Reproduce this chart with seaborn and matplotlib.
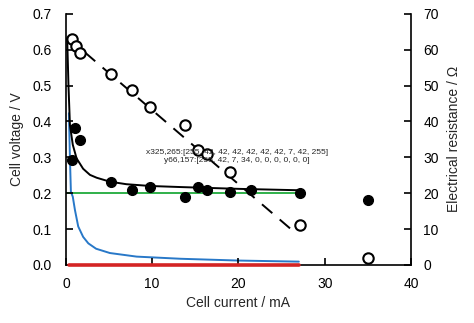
import matplotlib
matplotlib.use("Agg")
import matplotlib.pyplot as plt
import seaborn as sns
import pandas as pd
import numpy as np

sns.set_style("ticks")
plt.rcParams['font.family'] = ['Liberation Sans', 'DejaVu Sans']
plt.rcParams['axes.axisbelow'] = False

# Open circles: cell voltage (V)
volt_current = [0.66, 1.16, 1.66, 5.23, 7.63, 9.8, 13.76, 15.27, 16.36, 19.07, 27.17, 35.0]
volt_values = [0.630, 0.611, 0.590, 0.531, 0.489, 0.441, 0.390, 0.320, 0.310, 0.260, 0.110, 0.020]

# Dashed linear fit of voltage
dash_current = [0.15, 26.6]
dash_values = [0.635, 0.089]

# Filled circles: electrical resistance (Ohm)
res_current = [0.66, 1.05, 1.66, 5.23, 7.64, 9.77, 13.76, 15.27, 16.36, 19.07, 21.47, 27.1, 35.0]
res_values = [29.3, 38.3, 34.8, 23.0, 21.0, 21.6, 18.9, 21.7, 20.9, 20.4, 20.9, 20.0, 18.0]

# Solid black fit of resistance
fit_current = [0.15, 0.3, 0.47, 0.8, 1.24, 2.0, 2.79, 3.57, 5.1, 7.0, 9.77, 13.3, 20.0, 27.2]
fit_values = [63.2, 50.0, 39.0, 33.5, 29.7, 26.8, 25.1, 24.3, 23.2, 22.5, 22.0, 21.7, 21.2, 20.8]

# Blue curve (V)
blue_current = [0.35, 0.47, 0.58, 0.8, 1.05, 1.43, 2.0, 2.6, 3.5, 5.1, 8.2, 13.3, 20.0, 27.0]
blue_values = [0.423, 0.297, 0.204, 0.190, 0.153, 0.107, 0.078, 0.060, 0.045, 0.033, 0.023, 0.017, 0.012, 0.009]

# Green line (V)
green_current = [0.15, 27.0]
green_values = [0.2, 0.2]

# Red line (V)
red_current = [0.35, 27.0]
red_values = [0.0, 0.0]

fig = plt.figure(figsize=(4.74, 3.23), dpi=100)
ax = fig.add_axes([0.139, 0.180, 0.728, 0.777])
ax2 = ax.twinx()

sns.lineplot(x=green_current, y=green_values, ax=ax, color="#2fb04a", lw=1.4, sort=False)
sns.lineplot(x=blue_current, y=blue_values, ax=ax, color="#2878c8", lw=1.4, sort=False)
sns.lineplot(x=dash_current, y=dash_values, ax=ax, color="black", lw=1.4, sort=False,
             dashes=False, linestyle=(0, (7, 5)))
ax.plot(volt_current, volt_values, 'o', ms=7.5, mfc='white', mec='black', mew=1.5, zorder=5)

sns.lineplot(x=fit_current, y=fit_values, ax=ax2, color="black", lw=1.4, sort=False)
ax2.plot(res_current, res_values, 'o', ms=7, mfc='black', mec='black', zorder=5)
sns.lineplot(x=red_current, y=red_values, ax=ax2, color="#d42424", lw=2.6, sort=False)
for ln in ax2.get_lines()[-1:]:
    ln.set_clip_on(False)
    ln.set_zorder(6)

ax.set_xlim(0, 40)
ax.set_ylim(0, 0.7)
ax2.set_ylim(0, 70)
ax.set_xticks([0, 10, 20, 30, 40])
ax.set_yticks([0, 0.1, 0.2, 0.3, 0.4, 0.5, 0.6, 0.7])
ax.set_yticklabels(["0.0", "0.1", "0.2", "0.3", "0.4", "0.5", "0.6", "0.7"])
ax2.set_yticks([0, 10, 20, 30, 40, 50, 60, 70])

for a in (ax, ax2):
    a.spines['top'].set_visible(False)
    for s in a.spines.values():
        s.set_linewidth(1.2)
        s.set_color('black')
ax.spines['right'].set_visible(False)
ax2.spines['left'].set_visible(False)
ax2.spines['bottom'].set_visible(False)
ax.tick_params(axis='y', which='major', direction='in', length=5, width=1.2,
               left=True, right=False, labelleft=True, pad=10, labelsize=10, colors='black')
ax.tick_params(axis='x', which='major', direction='in', length=5, width=1.2,
               bottom=True, top=False, pad=9, labelsize=10, colors='black')
ax2.tick_params(axis='y', which='major', direction='in', length=5, width=1.2,
                right=True, left=False, labelright=True, pad=9, labelsize=10, colors='black')

ax.set_xlabel("Cell current / mA", fontsize=10, labelpad=3)
ax.set_ylabel("Cell voltage / V", fontsize=10, labelpad=6)
ax2.set_ylabel("Electrical resistance / Ω", fontsize=10, labelpad=6)

# debug: sample pixels around tick positions
fig.canvas.draw()
img = np.asarray(fig.canvas.buffer_rgba())
H = img.shape[0]
dx = ax.transData.transform((30, 0))
dy = ax.transData.transform((0, 0.3))
px, py = int(round(dx[0])), int(round(H - dx[1]))
col = img[py-8:py+2, px, 0].tolist()
qx, qy = int(round(dy[0])), int(round(H - dy[1]))
row = img[qy, qx-2:qx+8, 0].tolist()
fig.text(0.5, 0.5, f"x{px},{py}:{col}\ny{qx},{qy}:{row}", fontsize=6, ha='center')

fig.savefig("out.png", dpi=100)
